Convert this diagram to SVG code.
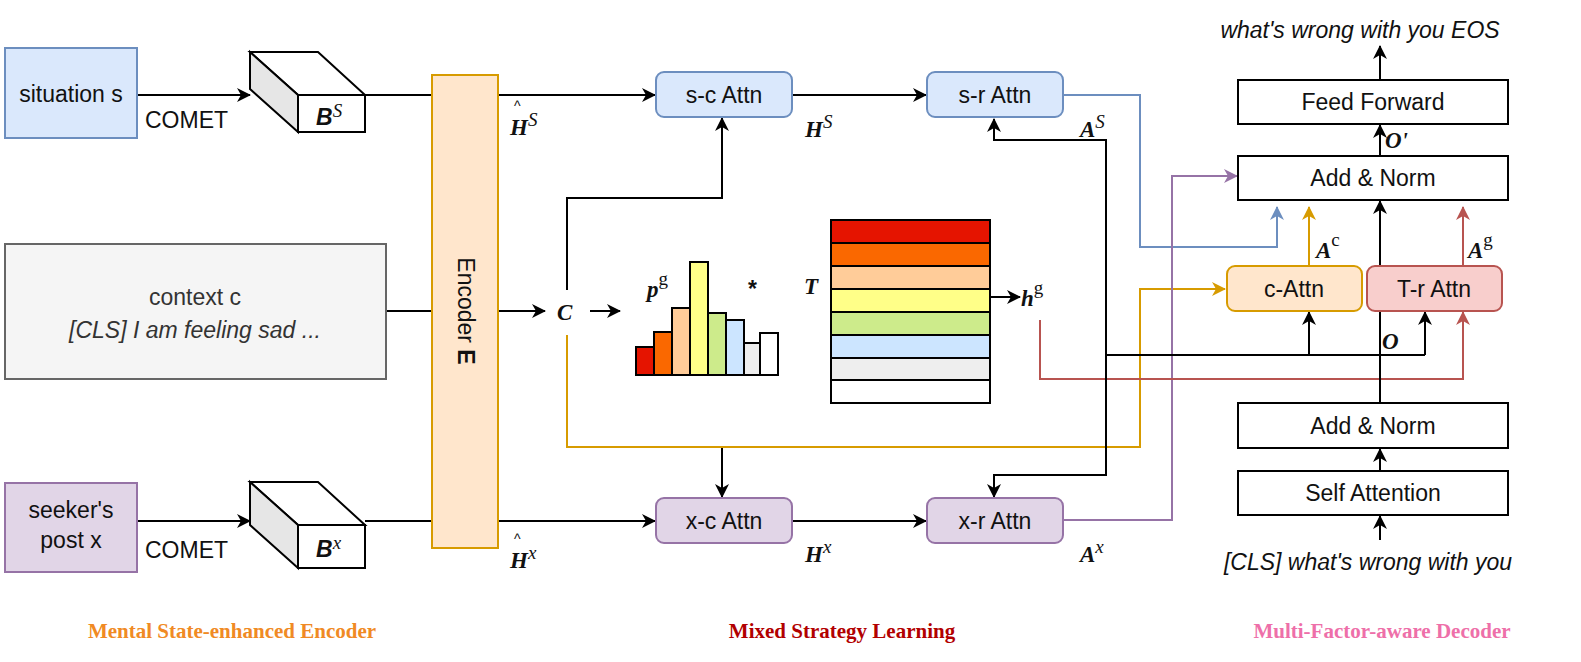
<svg xmlns="http://www.w3.org/2000/svg" width="1581" height="662" viewBox="0 0 1581 662">
<defs>
<marker id="a" markerWidth="14" markerHeight="14" refX="13" refY="7" orient="auto" markerUnits="userSpaceOnUse"><path d="M0,0 L14,7 L0,14 L4,7 z" fill="#000"/></marker>
<marker id="ab" markerWidth="14" markerHeight="14" refX="13" refY="7" orient="auto" markerUnits="userSpaceOnUse"><path d="M0,0 L14,7 L0,14 L4,7 z" fill="#6c8ebf"/></marker>
<marker id="ao" markerWidth="14" markerHeight="14" refX="13" refY="7" orient="auto" markerUnits="userSpaceOnUse"><path d="M0,0 L14,7 L0,14 L4,7 z" fill="#d79b00"/></marker>
<marker id="ar" markerWidth="14" markerHeight="14" refX="13" refY="7" orient="auto" markerUnits="userSpaceOnUse"><path d="M0,0 L14,7 L0,14 L4,7 z" fill="#b85450"/></marker>
<marker id="ap" markerWidth="14" markerHeight="14" refX="13" refY="7" orient="auto" markerUnits="userSpaceOnUse"><path d="M0,0 L14,7 L0,14 L4,7 z" fill="#9673a6"/></marker>
</defs>
<style>
text{font-family:"Liberation Sans",Arial,sans-serif;font-size:23px;fill:#111}
.m{font-family:"Liberation Serif",serif;font-style:italic;font-weight:bold;font-size:23px}
.s{font-size:19px;font-weight:normal}
.k{fill:none;stroke:#000;stroke-width:2}
.bl{fill:#dae8fc;stroke:#6c8ebf;stroke-width:2}
.pu{fill:#e1d5e7;stroke:#9673a6;stroke-width:2}
.w{fill:#fff;stroke:#000;stroke-width:2}
.sec{font-family:"Liberation Serif",serif;font-weight:bold;font-size:21px}
.g3{fill:#333}
</style>
<g id="connectors">
<path class="k" d="M137,95 H250" marker-end="url(#a)"/>
<path class="k" d="M365,95 H432 M498,95 H655" marker-end="url(#a)"/>
<path class="k" d="M792,95 H926" marker-end="url(#a)"/>
<path class="k" d="M137,521 H250" marker-end="url(#a)"/>
<path class="k" d="M365,521 H432 M498,521 H655" marker-end="url(#a)"/>
<path class="k" d="M792,521 H926" marker-end="url(#a)"/>
<path class="k" d="M386,311 H432 M498,311 H545" marker-end="url(#a)"/>
<path class="k" d="M590,311 H620" marker-end="url(#a)"/>
<path class="k" d="M567,290 V198 H722 V118" marker-end="url(#a)"/>
<path class="k" d="M722,447 V497" marker-end="url(#a)"/>
<path d="M567,335 V447 H1140 V289 H1225" fill="none" stroke="#d79b00" stroke-width="2" marker-end="url(#ao)"/>
<path d="M1063,95 H1140 V247 H1277 V207" fill="none" stroke="#6c8ebf" stroke-width="2" marker-end="url(#ab)"/>
<path d="M1063,520 H1172 V176 H1237" fill="none" stroke="#9673a6" stroke-width="2" marker-end="url(#ap)"/>
<path d="M1040,320 V379 H1463 V312" fill="none" stroke="#b85450" stroke-width="2" marker-end="url(#ar)"/>
<path d="M1309,266 V207" fill="none" stroke="#d79b00" stroke-width="2" marker-end="url(#ao)"/>
<path d="M1463,266 V207" fill="none" stroke="#b85450" stroke-width="2" marker-end="url(#ar)"/>
<path class="k" d="M990,297 H1020" marker-end="url(#a)"/>
<path class="k" d="M1106,355 V140 H994 V119" marker-end="url(#a)"/>
<path class="k" d="M1106,355 V475 H994 V497" marker-end="url(#a)"/>
<path class="k" d="M1106,355 H1425"/>
<path class="k" d="M1309,355 V312" marker-end="url(#a)"/>
<path class="k" d="M1425,355 V312" marker-end="url(#a)"/>
<path class="k" d="M1380,540 V516" marker-end="url(#a)"/>
<path class="k" d="M1380,471 V449" marker-end="url(#a)"/>
<path class="k" d="M1380,403 V201" marker-end="url(#a)"/>
<path class="k" d="M1380,156 V125" marker-end="url(#a)"/>
<path class="k" d="M1380,80 V46" marker-end="url(#a)"/>
</g>
<g id="situation"><rect x="5" y="48" width="132" height="90" class="bl"/><text x="71" y="102" text-anchor="middle">situation s</text></g>
<text x="145" y="128">COMET</text>
<g id="cube1">
<path d="M250,52 H318 L365,95 H298 Z" fill="#fff" stroke="#000" stroke-width="2"/>
<path d="M250,52 L298,95 V132 L250,89 Z" fill="#e6e6e6" stroke="#000" stroke-width="2"/>
<rect x="298" y="95" width="67" height="37" class="w"/>
<text x="316" y="125" font-weight="bold" font-style="italic">B<tspan class="m s" dy="-8">S</tspan></text>
</g>
<g id="context"><rect x="5" y="244" width="381" height="135" fill="#f5f5f5" stroke="#666" stroke-width="2"/>
<text x="195" y="305" text-anchor="middle" class="g3">context c</text>
<text x="195" y="338" text-anchor="middle" font-style="italic" class="g3">[CLS] I am feeling sad ...</text></g>
<g id="seeker"><rect x="5" y="483" width="132" height="89" class="pu"/><text x="71" y="518" text-anchor="middle">seeker's</text><text x="71" y="548" text-anchor="middle">post x</text></g>
<text x="145" y="558">COMET</text>
<g id="cube2">
<path d="M250,482 H318 L365,525 H298 Z" fill="#fff" stroke="#000" stroke-width="2"/>
<path d="M250,482 L298,525 V568 L250,525 Z" fill="#e6e6e6" stroke="#000" stroke-width="2"/>
<rect x="298" y="525" width="67" height="43" class="w"/>
<text x="316" y="557" font-weight="bold" font-style="italic">B<tspan class="m s" dy="-8">x</tspan></text>
</g>
<g id="encoder"><rect x="432" y="75" width="66" height="473" fill="#ffe6cc" stroke="#d79b00" stroke-width="2"/>
<text transform="translate(458,311) rotate(90)" text-anchor="middle">Encoder <tspan font-weight="bold">E</tspan></text></g>
<text class="m" x="510" y="135">H<tspan class="s" dy="-9">S</tspan></text><text x="514" y="111" style="font-size:14px">^</text>
<text class="m" x="510" y="568">H<tspan class="s" dy="-9">x</tspan></text><text x="514" y="544" style="font-size:14px">^</text>
<g id="sc"><rect x="656" y="72" width="136" height="45" rx="8" class="bl"/><text x="724" y="103" text-anchor="middle">s-c Attn</text></g>
<g id="sr"><rect x="927" y="72" width="136" height="45" rx="8" class="bl"/><text x="995" y="103" text-anchor="middle">s-r Attn</text></g>
<g id="xc"><rect x="656" y="498" width="136" height="45" rx="8" class="pu"/><text x="724" y="529" text-anchor="middle">x-c Attn</text></g>
<g id="xr"><rect x="927" y="498" width="136" height="45" rx="8" class="pu"/><text x="995" y="529" text-anchor="middle">x-r Attn</text></g>
<text class="m" x="805" y="137">H<tspan class="s" dy="-9">S</tspan></text>
<text class="m" x="1080" y="137">A<tspan class="s" dy="-9">S</tspan></text>
<text class="m" x="805" y="562">H<tspan class="s" dy="-9">x</tspan></text>
<text class="m" x="1080" y="562">A<tspan class="s" dy="-9">x</tspan></text>
<text class="m" x="557" y="320">C</text>
<g id="bars" stroke="#000" stroke-width="2">
<rect x="636" y="347" width="18" height="28" fill="#e51400"/>
<rect x="654" y="332" width="18" height="43" fill="#fa6800"/>
<rect x="672" y="308" width="18" height="67" fill="#ffcc99"/>
<rect x="690" y="262" width="18" height="113" fill="#ffff88"/>
<rect x="708" y="313" width="18" height="62" fill="#cdeb8b"/>
<rect x="726" y="320" width="18" height="55" fill="#cce5ff"/>
<rect x="744" y="343" width="16" height="32" fill="#eeeeee"/>
<rect x="760" y="333" width="18" height="42" fill="#fff"/>
</g>
<text class="m" x="647" y="297">p<tspan class="s" style="font-style:normal" dy="-12">g</tspan></text>
<text x="748" y="297" font-weight="bold">*</text>
<text class="m" x="804" y="294">T</text>
<g id="T" stroke="#000" stroke-width="2">
<rect x="831" y="220" width="159" height="23" fill="#e51400"/>
<rect x="831" y="243" width="159" height="23" fill="#fa6800"/>
<rect x="831" y="266" width="159" height="23" fill="#ffcc99"/>
<rect x="831" y="289" width="159" height="23" fill="#ffff88"/>
<rect x="831" y="312" width="159" height="23" fill="#cdeb8b"/>
<rect x="831" y="335" width="159" height="23" fill="#cce5ff"/>
<rect x="831" y="358" width="159" height="22" fill="#eeeeee"/>
<rect x="831" y="380" width="159" height="23" fill="#fff"/>
</g>
<text class="m" x="1021" y="306">h<tspan class="s" style="font-style:normal" dy="-12">g</tspan></text>
<g id="ff"><rect x="1238" y="80" width="270" height="44" class="w"/><text x="1373" y="110" text-anchor="middle">Feed Forward</text></g>
<g id="an1"><rect x="1238" y="156" width="270" height="44" class="w"/><text x="1373" y="186" text-anchor="middle">Add &amp; Norm</text></g>
<g id="cattn"><rect x="1227" y="266" width="135" height="45" rx="8" fill="#ffe6cc" stroke="#d79b00" stroke-width="2"/><text x="1294" y="297" text-anchor="middle">c-Attn</text></g>
<g id="tattn"><rect x="1367" y="266" width="135" height="45" rx="8" fill="#f8cecc" stroke="#b85450" stroke-width="2"/><text x="1434" y="297" text-anchor="middle">T-r Attn</text></g>
<g id="an2"><rect x="1238" y="403" width="270" height="45" class="w"/><text x="1373" y="434" text-anchor="middle">Add &amp; Norm</text></g>
<g id="sa"><rect x="1238" y="471" width="270" height="44" class="w"/><text x="1373" y="501" text-anchor="middle">Self Attention</text></g>
<text class="m" x="1385" y="148">O'</text>
<text class="m" x="1382" y="349">O</text>
<text class="m" x="1316" y="258">A<tspan class="s" style="font-style:normal" dy="-12">c</tspan></text>
<text class="m" x="1468" y="258">A<tspan class="s" style="font-style:normal" dy="-12">g</tspan></text>
<text x="1360" y="38" text-anchor="middle" font-style="italic">what's wrong with you EOS</text>
<text x="1368" y="570" text-anchor="middle" font-style="italic">[CLS] what's wrong with you</text>
<text class="sec" x="232" y="638" text-anchor="middle" style="fill:#f08a24">Mental State-enhanced Encoder</text>
<text class="sec" x="842" y="638" text-anchor="middle" style="fill:#b20000">Mixed Strategy Learning</text>
<text class="sec" x="1382" y="638" text-anchor="middle" style="fill:#ee6fa9">Multi-Factor-aware Decoder</text>
</svg>
